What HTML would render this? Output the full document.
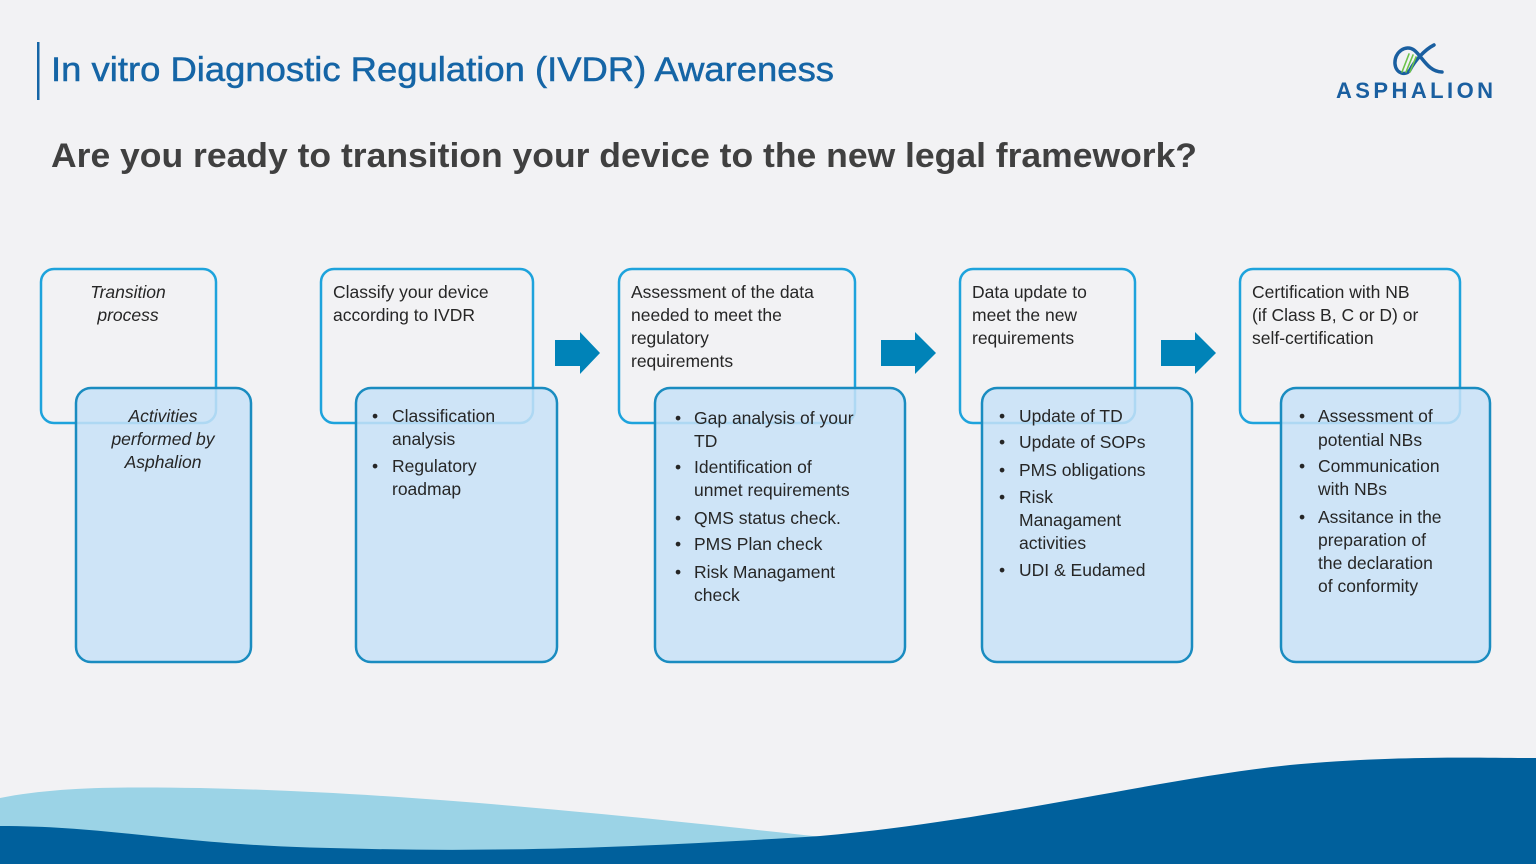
<!DOCTYPE html>
<html><head><meta charset="utf-8">
<style>
html,body{margin:0;padding:0;background:#f2f2f4;}
svg{display:block;}
text{font-family:"Liberation Sans",sans-serif;}
.t{font-size:17.5px;fill:#262626;}
.i{font-style:italic;}
</style></head>
<body>
<svg width="1536" height="864" viewBox="0 0 1536 864" xmlns="http://www.w3.org/2000/svg">
<rect width="1536" height="864" fill="#f2f2f4"/>
<!-- header -->
<rect x="37" y="42" width="2.5" height="58" fill="#1565a6"/>
<text x="51" y="81" font-size="34" fill="#1565a6" stroke="#1565a6" stroke-width="0.5" textLength="783" lengthAdjust="spacingAndGlyphs">In vitro Diagnostic Regulation (IVDR) Awareness</text>
<text x="51" y="167" font-size="34" font-weight="bold" fill="#404040" textLength="1146" lengthAdjust="spacingAndGlyphs">Are you ready to transition your device to the new legal framework?</text>
<!-- logo -->
<g fill="none" stroke-linecap="round">
<path d="M1434 45 C1424 50 1414 62 1410 70 C1406 76 1396 74 1395 64 C1394 52 1406 44 1414 50 C1422 56 1428 72 1442 72" stroke="#1a5fa0" stroke-width="3.5"/>
<path d="M1402 72 L1409 54 M1406 72 L1413 55 M1410 72 L1416 57" stroke="#6cc24a" stroke-width="1.6"/>
</g>
<text x="1336" y="98" font-size="22" font-weight="bold" fill="#1a5fa0" textLength="157" lengthAdjust="spacing">ASPHALION</text>

<!-- top boxes -->
<g fill="#f2f2f4" stroke="#1ea3dc" stroke-width="2.5">
<rect x="41" y="269" width="175" height="154" rx="13"/>
<rect x="321" y="269" width="212" height="154" rx="13"/>
<rect x="619" y="269" width="236" height="154" rx="13"/>
<rect x="960" y="269" width="175" height="154" rx="13"/>
<rect x="1240" y="269" width="220" height="154" rx="13"/>
</g>
<!-- bottom boxes -->
<g fill="rgba(200,226,247,0.85)" stroke="#1a8cc0" stroke-width="2.5">
<rect x="76" y="388" width="175" height="274" rx="15"/>
<rect x="356" y="388" width="201" height="274" rx="15"/>
<rect x="655" y="388" width="250" height="274" rx="15"/>
<rect x="982" y="388" width="210" height="274" rx="15"/>
<rect x="1281" y="388" width="209" height="274" rx="15"/>
</g>
<!-- arrows -->
<g fill="#0083b8">
<path d="M555 340 H580 V332 L600 353 L580 374 V366 H555 Z"/>
<path d="M881 340 H915 V332 L936 353 L915 374 V366 H881 Z"/>
<path d="M1161 340 H1195 V332 L1216 353 L1195 374 V366 H1161 Z"/>
</g>

<!-- box 1 -->
<g class="t i" text-anchor="middle">
<text x="128" y="298">Transition</text>
<text x="128" y="321">process</text>
<text x="163" y="422">Activities</text>
<text x="163" y="445">performed by</text>
<text x="163" y="468">Asphalion</text>
</g>
<!-- box 2 -->
<g class="t">
<text x="333" y="298">Classify your device</text>
<text x="333" y="321">according to IVDR</text>
<text x="372" y="422">•</text><text x="392" y="422">Classification</text>
<text x="392" y="445">analysis</text>
<text x="372" y="472">•</text><text x="392" y="472">Regulatory</text>
<text x="392" y="495">roadmap</text>
</g>
<!-- box 3 -->
<g class="t">
<text x="631" y="298">Assessment of the data</text>
<text x="631" y="321">needed to meet the</text>
<text x="631" y="344">regulatory</text>
<text x="631" y="367">requirements</text>
<text x="675" y="424">•</text><text x="694" y="424">Gap analysis of your</text>
<text x="694" y="447">TD</text>
<text x="675" y="473">•</text><text x="694" y="473">Identification of</text>
<text x="694" y="496">unmet requirements</text>
<text x="675" y="524">•</text><text x="694" y="524">QMS status check.</text>
<text x="675" y="550">•</text><text x="694" y="550">PMS Plan check</text>
<text x="675" y="578">•</text><text x="694" y="578">Risk Managament</text>
<text x="694" y="601">check</text>
</g>
<!-- box 4 -->
<g class="t">
<text x="972" y="298">Data update to</text>
<text x="972" y="321">meet the new</text>
<text x="972" y="344">requirements</text>
<text x="999" y="422">•</text><text x="1019" y="422">Update of TD</text>
<text x="999" y="448">•</text><text x="1019" y="448">Update of SOPs</text>
<text x="999" y="476">•</text><text x="1019" y="476">PMS obligations</text>
<text x="999" y="503">•</text><text x="1019" y="503">Risk</text>
<text x="1019" y="526">Managament</text>
<text x="1019" y="549">activities</text>
<text x="999" y="576">•</text><text x="1019" y="576">UDI &amp; Eudamed</text>
</g>
<!-- box 5 -->
<g class="t">
<text x="1252" y="298">Certification with NB</text>
<text x="1252" y="321">(if Class B, C or D) or</text>
<text x="1252" y="344">self-certification</text>
<text x="1299" y="422">•</text><text x="1318" y="422">Assessment of</text>
<text x="1318" y="446">potential NBs</text>
<text x="1299" y="472">•</text><text x="1318" y="472">Communication</text>
<text x="1318" y="495">with NBs</text>
<text x="1299" y="523">•</text><text x="1318" y="523">Assitance in the</text>
<text x="1318" y="546">preparation of</text>
<text x="1318" y="569">the declaration</text>
<text x="1318" y="592">of conformity</text>
</g>

<!-- waves -->
<path d="M0 798 C60 786 130 787 200 788 C380 792 560 808 830 838 L1536 864 L0 864 Z" fill="#9bd3e6"/>
<path d="M0 826 C110 826 180 845 330 848 C470 852 600 850 820 836 C1000 820 1150 780 1290 765 C1400 755 1480 758 1536 758 L1536 864 L0 864 Z" fill="#00609c"/>
</svg>
</body></html>
